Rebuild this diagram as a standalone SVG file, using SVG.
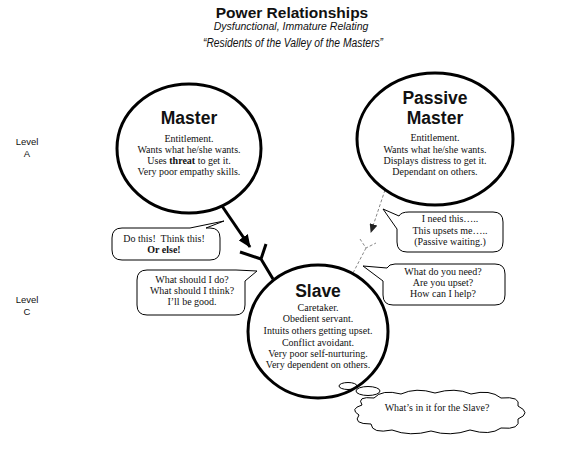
<svg xmlns="http://www.w3.org/2000/svg" width="575" height="453" viewBox="0 0 575 453">
<style>
.circ{fill:#fff;stroke:#000;stroke-width:3}
.bub{fill:#fff;stroke:#000;stroke-width:1}
.head{font-family:"Liberation Sans",Arial,sans-serif;font-weight:bold;font-size:17.5px;fill:#111;text-anchor:middle}
.body{font-family:"Liberation Serif","Times New Roman",serif;font-size:10px;fill:#111;text-anchor:middle}
.lvl{font-family:"Liberation Sans",Arial,sans-serif;font-size:9.5px;fill:#111;text-anchor:middle}
.solid{fill:none;stroke:#000;stroke-width:3}
.dash{fill:none;stroke:#888;stroke-width:1;stroke-dasharray:3 2}
</style>
<defs>
<marker id="ah" markerUnits="userSpaceOnUse" markerWidth="13" markerHeight="11" refX="12" refY="5.5" orient="auto"><path d="M0,0 L13,5.5 L0,11 Z" fill="#000"/></marker>
<marker id="ahs" markerUnits="userSpaceOnUse" markerWidth="9" markerHeight="8" refX="8" refY="4" orient="auto"><path d="M0,0 L9,4 L0,8 Z" fill="#222"/></marker>
</defs>
<rect width="575" height="453" fill="#fff"/>
<g id="title">
<text x="292" y="18" style="font-family:'Liberation Sans',Arial,sans-serif;font-weight:bold;font-size:15.5px;fill:#111" text-anchor="middle">Power Relationships</text>
<text x="291" y="30" style="font-family:'Liberation Sans',Arial,sans-serif;font-style:italic;font-size:10.5px;fill:#111" text-anchor="middle">Dysfunctional, Immature Relating</text>
<text x="293" y="47" textLength="180" lengthAdjust="spacingAndGlyphs" style="font-family:'Liberation Sans',Arial,sans-serif;font-style:italic;font-size:12px;fill:#111" text-anchor="middle">“Residents of the Valley of the Masters”</text>
</g>
<g id="levels">
<text class="lvl" x="27" y="145">Level</text>
<text class="lvl" x="27" y="157">A</text>
<text class="lvl" x="27" y="303">Level</text>
<text class="lvl" x="27" y="315">C</text>
</g>
<g id="connectors">
<line class="solid" x1="222" y1="206" x2="250" y2="247" marker-end="url(#ah)"/>
<path class="solid" d="M240,252 L261,259 L266,244 M261,259 L273,279"/>
<line class="dash" x1="385" y1="190" x2="371" y2="232" marker-end="url(#ahs)"/>
<path class="dash" d="M360,239 L366,248 L376,243 M366,248 L353,273"/>
</g>
<g id="master">
<ellipse class="circ" cx="189" cy="148.5" rx="72" ry="64.5"/>
<text class="head" x="189" y="124">Master</text>
<text class="body" x="189" y="142">Entitlement.</text>
<text class="body" x="189" y="153">Wants what he/she wants.</text>
<text class="body" x="189" y="164">Uses <tspan font-weight="bold">threat</tspan> to get it.</text>
<text class="body" x="189" y="175">Very poor empathy skills.</text>
</g>
<g id="passive-master">
<ellipse class="circ" cx="435" cy="139" rx="78" ry="66"/>
<text class="head" x="435" y="104">Passive</text>
<text class="head" x="435" y="124">Master</text>
<text class="body" x="435" y="141">Entitlement.</text>
<text class="body" x="435" y="153">Wants what he/she wants.</text>
<text class="body" x="435" y="164">Displays distress to get it.</text>
<text class="body" x="435" y="175">Dependant on others.</text>
</g>
<g id="slave">
<ellipse class="circ" cx="318" cy="331.5" rx="70" ry="66.5"/>
<text class="head" x="318" y="297">Slave</text>
<text class="body" x="318" y="311">Caretaker.</text>
<text class="body" x="318" y="322">Obedient servant.</text>
<text class="body" x="318" y="334">Intuits others getting upset.</text>
<text class="body" x="318" y="346">Conflict avoidant.</text>
<text class="body" x="318" y="357">Very poor self-nurturing.</text>
<text class="body" x="318" y="368">Very dependent on others.</text>
</g>
<g id="bubble-master">
<path class="bub" d="M122,228 H190 L224,221 L206,228 H210 Q220,228 220,238 V250 Q220,260 210,260 H122 Q112,260 112,250 V238 Q112,228 122,228 Z"/>
<text class="body" x="164" y="242">Do this!&#160; Think this!</text>
<text class="body" x="164" y="253" font-weight="bold">Or else!</text>
</g>
<g id="bubble-slave-1">
<path class="bub" d="M147,270 H236 L257,271 L245,281 V305 Q245,315 235,315 H147 Q137,315 137,305 V280 Q137,270 147,270 Z"/>
<text class="body" x="192" y="283">What should I do?</text>
<text class="body" x="192" y="294">What should I think?</text>
<text class="body" x="192" y="305">I’ll be good.</text>
</g>
<g id="bubble-passive">
<path class="bub" d="M409,212 H493 Q503,212 503,222 V242 Q503,252 493,252 H407 Q397,252 397,242 V229 L383,209 L399,216 Q401,212 409,212 Z"/>
<text class="body" x="450" y="222">I need this…..</text>
<text class="body" x="450" y="234">This upsets me…..</text>
<text class="body" x="450" y="245">(Passive waiting.)</text>
</g>
<g id="bubble-slave-2">
<path class="bub" d="M395,264 H495 Q505,264 505,274 V295 Q505,305 495,305 H393 Q383,305 383,295 V281 L363,266 L387,268 Q389,264 395,264 Z"/>
<text class="body" x="443" y="275">What do you need?</text>
<text class="body" x="443" y="286">Are you upset?</text>
<text class="body" x="443" y="297">How can I help?</text>
</g>
<g id="cloud">
<ellipse cx="348" cy="386" rx="9" ry="3.5" fill="none" stroke="#000" stroke-width="1"/>
<ellipse cx="368" cy="391" rx="12" ry="4.5" fill="none" stroke="#000" stroke-width="1"/>
<path class="bub" d="M362,405 Q356,396 374,398 Q382,389 401,394 Q416,387 435,393 Q455,387 471,394 Q490,389 501,398 Q521,396 518,406 Q532,413 518,419 Q521,430 501,428 Q490,436 470,430 Q450,437 431,431 Q410,437 392,430 Q372,434 371,424 Q352,424 359,415 Q349,409 362,405 Z"/>
<text class="body" x="437" y="411">What’s in it for the Slave?</text>
</g>
</svg>
